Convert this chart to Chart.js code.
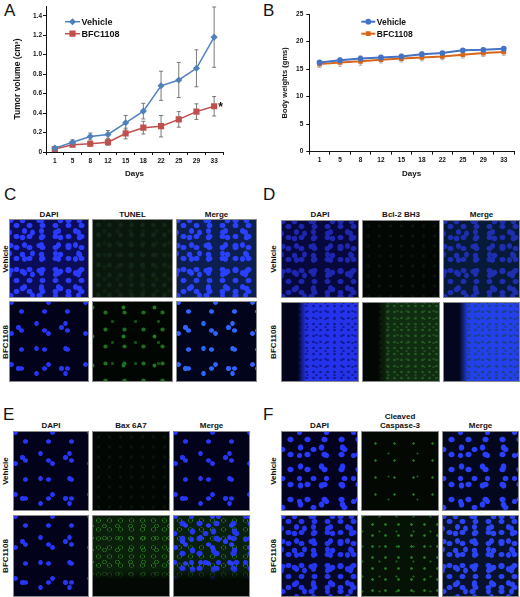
<!DOCTYPE html>
<html>
<head>
<meta charset="utf-8">
<script src="https://cdn.jsdelivr.net/npm/chart.js@4.4.0/dist/chart.umd.min.js"></script>
<style>
  html,body{margin:0;padding:0;background:#fff;}
  body{width:520px;height:597px;position:relative;overflow:hidden;font-family:'Liberation Sans',Arial,sans-serif;}
  .abs{position:absolute;}
  .letter{position:absolute;font-size:17px;color:#111;line-height:1;}
  .hdr{position:absolute;font-size:8px;font-weight:bold;color:#111;text-align:center;line-height:1.15;transform:translateX(-50%);white-space:nowrap;}
  .rowlab{position:absolute;font-size:8px;font-weight:bold;color:#111;white-space:nowrap;transform:translate(-50%,-50%) rotate(-90deg);}
  .img{position:absolute;box-sizing:border-box;border:1px solid #8a8a8a;overflow:hidden;}
</style>
</head>
<body>
<div class="letter" style="left:4px;top:2px;">A</div>
<div class="letter" style="left:263px;top:2px;">B</div>
<div class="abs" style="left:0;top:0;width:232px;height:185px;"><canvas id="chartA"></canvas></div>
<div class="abs" style="left:260px;top:0;width:260px;height:185px;"><canvas id="chartB"></canvas></div>
<div id="figs"></div>
<script>
// ---------------- data ----------------
const days = ['1','5','8','12','15','18','22','25','29','33'];
const vehicleVolume    = [0.04, 0.10, 0.16, 0.18, 0.30, 0.42, 0.68, 0.74, 0.86, 1.18];
const vehicleVolumeErr = [0.01, 0.025,0.035,0.04, 0.075,0.08, 0.15, 0.18, 0.19, 0.31];
const bfcVolume        = [0.03, 0.075,0.085,0.10, 0.19, 0.25, 0.265,0.335,0.415,0.47];
const bfcVolumeErr     = [0.01, 0.02, 0.025,0.03, 0.055,0.065,0.11, 0.08, 0.08, 0.10];
const vehicleWeight    = [16.2, 16.6, 16.9, 17.1, 17.3, 17.7, 17.9, 18.4, 18.5, 18.7];
const vehicleWeightErr = [0.3, 0.4, 0.5, 0.4, 0.4, 0.4, 0.3, 0.3, 0.3, 0.3];
const bfcWeight        = [15.9, 16.2, 16.4, 16.7, 16.9, 17.1, 17.3, 17.6, 17.9, 18.1];
const bfcWeightErr     = [0.6, 0.7, 0.7, 0.6, 0.6, 0.6, 0.6, 0.6, 0.6, 0.6];
const volumeTicks = [0, 0.2, 0.4, 0.6, 0.8, 1, 1.2, 1.4];
const weightTicks = [0, 5, 10, 15, 20, 25];
const seriesNames = ['Vehicle', 'BFC1108'];
const significanceMark = '*';

// ---------------- chart helpers ----------------
Chart.defaults.font.family = "'Liberation Sans', Arial, sans-serif";
Chart.defaults.color = '#111';

const errorBars = {
  id: 'errorBars',
  beforeDatasetsDraw(chart, args, opts) {
    const ctx = chart.ctx, ys = chart.scales.y;
    chart.data.datasets.forEach((ds, i) => {
      if (!ds.errors) return;
      const meta = chart.getDatasetMeta(i);
      ctx.save();
      ctx.strokeStyle = opts.color; ctx.lineWidth = opts.width;
      meta.data.forEach((pt, j) => {
        const v = ds.data[j], e = ds.errors[j];
        const t = ys.getPixelForValue(v + e), b = ys.getPixelForValue(v - e);
        ctx.beginPath();
        ctx.moveTo(pt.x, t); ctx.lineTo(pt.x, b);
        ctx.moveTo(pt.x - opts.cap, t); ctx.lineTo(pt.x + opts.cap, t);
        ctx.moveTo(pt.x - opts.cap, b); ctx.lineTo(pt.x + opts.cap, b);
        ctx.stroke();
      });
      ctx.restore();
    });
  }
};

const innerLegend = {
  id: 'innerLegend',
  afterDraw(chart, args, opts) {
    const ctx = chart.ctx, ca = chart.chartArea;
    chart.data.datasets.forEach((ds, i) => {
      const x = ca.left + opts.dx, y = ca.top + opts.dy + i * opts.gap;
      ctx.save();
      ctx.strokeStyle = ds.borderColor; ctx.lineWidth = ds.borderWidth;
      ctx.beginPath(); ctx.moveTo(x, y); ctx.lineTo(x + opts.len, y); ctx.stroke();
      ctx.fillStyle = ds.pointBackgroundColor; ctx.strokeStyle = ds.pointBorderColor;
      Chart.helpers.drawPoint(ctx, {pointStyle: ds.pointStyle, radius: ds.pointRadius, rotation: 0, borderWidth: 1}, x + opts.len / 2, y);
      ctx.fillStyle = '#111';
      ctx.font = 'bold ' + opts.size + "px 'Liberation Sans', Arial, sans-serif";
      ctx.textBaseline = 'middle';
      ctx.fillText(ds.label, x + opts.len + 1.5, y + 0.5);
      ctx.restore();
    });
  }
};

const asterisk = {
  id: 'asterisk',
  afterDraw(chart, args, opts) {
    if (!opts.text) return;
    const meta = chart.getDatasetMeta(opts.dataset);
    const pt = meta.data[meta.data.length - 1];
    const ctx = chart.ctx;
    ctx.save();
    ctx.fillStyle = '#111';
    ctx.font = "bold 12px 'Liberation Sans', Arial, sans-serif";
    ctx.textBaseline = 'middle';
    ctx.fillText(opts.text, pt.x + 4, pt.y + 1);
    ctx.restore();
  }
};

function makeChart(id, cfg) {
  return new Chart(document.getElementById(id), {
    type: 'line',
    data: {labels: days, datasets: cfg.datasets},
    options: {
      responsive: true, maintainAspectRatio: false, animation: false,
      layout: {padding: cfg.padding},
      plugins: {
        legend: {display: false}, tooltip: {enabled: false},
        errorBars: cfg.err, innerLegend: cfg.legend, asterisk: cfg.asterisk || {}
      },
      scales: {
        x: {
          type: 'category', offset: true,
          grid: {display: true, offset: true, drawOnChartArea: false, drawTicks: true, tickLength: 3, color: '#111', lineWidth: 1},
          border: {display: true, color: '#111', width: 1},
          ticks: {font: {size: 6.5, weight: 'bold'}, color: '#111', padding: 2, maxRotation: 0, autoSkip: false},
          title: {display: true, text: 'Days', font: {size: 8, weight: 'bold'}, color: '#111', padding: {top: 0, bottom: cfg.xTitlePad}},
          afterFit: s => { s.height = cfg.xHeight; }
        },
        y: {
          min: 0, max: cfg.yMax,
          afterBuildTicks: s => { s.ticks = cfg.yTicks.map(v => ({value: v})); },
          grid: {display: true, drawOnChartArea: false, drawTicks: true, tickLength: 3, color: '#111', lineWidth: 1},
          border: {display: true, color: '#111', width: 1},
          ticks: {font: {size: 6.5, weight: 'bold'}, color: '#111', padding: cfg.yTickPad},
          title: {display: true, text: cfg.yTitle, font: {size: cfg.yTitleSize, weight: 'bold'}, color: '#111', padding: {top: cfg.yTitlePad, bottom: 0}},
          afterFit: s => { s.width = cfg.yWidth; }
        }
      }
    },
    plugins: [errorBars, innerLegend, asterisk]
  });
}

makeChart('chartA', {
  datasets: [
    {label: seriesNames[0], data: vehicleVolume, errors: vehicleVolumeErr, borderColor: '#4F81BD', backgroundColor: '#4F81BD',
     pointBackgroundColor: '#4F81BD', pointBorderColor: '#4F81BD', pointStyle: 'rectRot', pointRadius: 2.5, borderWidth: 1.5, tension: 0},
    {label: seriesNames[1], data: bfcVolume, errors: bfcVolumeErr, borderColor: '#C0504D', backgroundColor: '#C0504D',
     pointBackgroundColor: '#C0504D', pointBorderColor: '#C0504D', pointStyle: 'rect', pointRadius: 3.3, borderWidth: 1.5, tension: 0}
  ],
  padding: {top: 6, right: 9, left: 0, bottom: 0},
  yMax: 1.5, yTicks: volumeTicks, yWidth: 46, xHeight: 33, xTitlePad: 6, yTickPad: 1,
  yTitle: 'Tumor volume (cm³)', yTitleSize: 8.5, yTitlePad: 13,
  err: {color: '#6b6b6b', width: 0.9, cap: 2},
  legend: {dx: 19, dy: 15.7, gap: 12, len: 15, size: 9},
  asterisk: {dataset: 1, text: significanceMark}
});

makeChart('chartB', {
  datasets: [
    {label: seriesNames[0], data: vehicleWeight, errors: vehicleWeightErr, borderColor: '#4472C4', backgroundColor: '#4472C4',
     pointBackgroundColor: '#4472C4', pointBorderColor: '#4472C4', pointStyle: 'circle', pointRadius: 1.9, borderWidth: 2, tension: 0},
    {label: seriesNames[1], data: bfcWeight, errors: bfcWeightErr, borderColor: '#D8661A', backgroundColor: '#D8661A',
     pointBackgroundColor: '#D8661A', pointBorderColor: '#D8661A', pointStyle: 'rect', pointRadius: 1.9, borderWidth: 2, tension: 0}
  ],
  padding: {top: 14, right: 3, left: 0, bottom: 0},
  yMax: 25, yTicks: weightTicks, yWidth: 49.3, xHeight: 33.3, xTitlePad: 6.5, yTickPad: 3,
  yTitle: 'Body weights (gms)', yTitleSize: 7.5, yTitlePad: 20,
  err: {color: '#a8a8a8', width: 0.9, cap: 1.8},
  legend: {dx: 52, dy: 7.7, gap: 12, len: 14, size: 8.5}
});

// ---------------- microscopy panels (layout/decoration) ----------------
function dotLayers(layers) {
  return layers.map(l => `radial-gradient(${l[1]}px ${l[2]}px at 50% 50%, ${l[0]} ${l[7] || 70}%, rgba(0,0,0,0) 100%) ${l[5]}px ${l[6]}px/${l[3]}px ${l[4]}px`).join(', ');
}
function dots(layers, bg) { return dotLayers(layers) + ', ' + bg; }
function rings(color, tw, th, ox, oy) {
  return `radial-gradient(3px 2.6px at 50% 50%, rgba(0,0,0,0) 50%, ${color} 68%, rgba(0,0,0,0) 90%) ${ox}px ${oy}px/${tw}px ${th}px`;
}
const denseBlue = c => [[c,3.4,3,13,11,0,0],[c,3,3.4,17,14,6,4],[c,3.2,3.2,19,17,3,9],[c,2.8,3.4,23,21,11,2],[c,3.6,3,29,25,15,13]];
const sparseBlue = c => [[c,3,2.6,23,19,0,0],[c,2.6,3,29,25,12,9],[c,2.8,2.8,37,31,20,16],[c,3,3,43,41,30,5]];
const midBlue = c => [[c,3.6,3.2,17,15,0,0],[c,3.2,3.6,21,19,8,6],[c,3,3,27,23,4,12],[c,3.4,3,31,29,16,3]];
const netBottom = "linear-gradient(180deg, rgba(0,0,0,0) 0, rgba(0,0,0,0) 66%, #040804 80%)";
const tex = {
  dapiDenseNavy: dots(denseBlue('#2a3aff'), '#0b0d58'),
  dapiSparse: dots(sparseBlue('#2636f8'), '#02021a'),
  dapiFaint: dots(denseBlue('#1e26b0'), '#07083e'),
  dapiMid: dots(midBlue('#2838ff'), '#03031f'),
  dapiBfcF: dots(denseBlue('#2536f0'), '#060828'),
  dapiSolid: "linear-gradient(90deg, #03031c 0, #03031c 20%, rgba(0,0,0,0) 32%), " + dots([['#121a90',1.6,1.6,7,6,0,0,60],['#121a90',1.4,1.4,9,8,3,4,60]], '#2433ea'),
  greenDark: dots([['#13281a',3,3,11,10,0,0,50],['#10220f',3,3,13,12,5,5,50]], '#0a170c'),
  greenBlack: dots([['#0a180a',2,2,11,10,0,0,50]], '#030703'),
  greenSpots: dots([['#1d6e20',2.6,2.4,19,17,3,2,60],['#145214',2,2,23,21,8,9,60],['#1f7a22',2.4,2.4,31,29,15,20,60]], '#020602'),
  greenField: "linear-gradient(90deg, #030703 0, #030703 20%, rgba(0,0,0,0) 32%), " + dots([['#245a22',1.6,1.6,7,6,0,0,60],['#1e4e1e',1.4,1.4,9,8,3,4,60]], '#102c11'),
  greenNet: netBottom + ", " + rings('#2f8226', 11, 9, 0, 0) + ', ' + rings('#28721f', 13, 12, 5, 4) + ', #0a200b',
  greenFew: dots([['#237a24',1.5,1.5,19,17,4,3,60],['#1a5a1a',1.3,1.3,29,23,12,10,60]], '#030803'),
  greenFewF: dots([['#237a24',1.6,1.6,13,11,4,3,60],['#1a5a1a',1.4,1.4,17,15,9,8,60]], '#061206'),
  mergeDenseNavy: dots(denseBlue('#2a40ff'), '#0c1f50'),
  mergeSparseCyan: dots(sparseBlue('#2a66ff'), '#02041c'),
  mergeFaint: dots(denseBlue('#1e2eb0'), '#081a3a'),
  mergeSolid: "linear-gradient(90deg, #03061c 0, #03061c 20%, rgba(0,0,0,0) 32%), " + dots([['#1a4280',1.6,1.6,7,6,0,0,60],['#1a4280',1.4,1.4,9,8,3,4,60]], '#2440ea'),
  mergeNet: netBottom + ", " + dotLayers(sparseBlue('#2a3cff')) + ', ' + dotLayers(midBlue('#2436f0')) + ', ' + rings('#2f8226', 11, 9, 0, 0) + ', #0a200f',
  mergeMid: dots(midBlue('#2a40ff'), '#03081f'),
  mergeBfcF: dots(denseBlue('#2a44f5'), '#08122c')
};

const panels = [
  {letter: 'C', lx: 4, ly: 186, hy: 210, heads: ['DAPI', 'TUNEL', 'Merge'], cols: [[9, 89], [92, 173], [176, 257]], rows: [[219, 298], [301, 382]], labX: 5,
   tex: [['dapiDenseNavy', 'greenDark', 'mergeDenseNavy'], ['dapiSparse', 'greenSpots', 'mergeSparseCyan']]},
  {letter: 'D', lx: 263, ly: 186, hy: 210, heads: ['DAPI', 'Bcl-2 BH3', 'Merge'], cols: [[281, 359], [362, 440], [443, 520]], rows: [[220, 298], [302, 382]], labX: 273,
   tex: [['dapiFaint', 'greenBlack', 'mergeFaint'], ['dapiSolid', 'greenField', 'mergeSolid']]},
  {letter: 'E', lx: 3, ly: 406, hy: 421, heads: ['DAPI', 'Bax 6A7', 'Merge'], cols: [[13, 89], [92, 170], [173, 250]], rows: [[431, 511], [515, 597]], labX: 5,
   tex: [['dapiSparse', 'greenBlack', 'dapiSparse'], ['dapiSparse', 'greenNet', 'mergeNet']]},
  {letter: 'F', lx: 263, ly: 406, hy: 421, heads: ['DAPI', 'Cleaved<br>Caspase-3', 'Merge'], cols: [[281, 358], [361, 439], [442, 519]], rows: [[431, 511], [515, 597]], labX: 273,
   tex: [['dapiMid', 'greenFew', 'mergeMid'], ['dapiBfcF', 'greenFewF', 'mergeBfcF']]}
];
const rowNames = ['Vehicle', 'BFC1108'];
const figs = document.getElementById('figs');
panels.forEach(p => {
  const L = document.createElement('div');
  L.className = 'letter'; L.style.left = p.lx + 'px'; L.style.top = p.ly + 'px'; L.textContent = p.letter;
  figs.appendChild(L);
  p.heads.forEach((h, c) => {
    const d = document.createElement('div');
    d.className = 'hdr';
    const multi = h.indexOf('<br>') >= 0;
    d.style.left = ((p.cols[c][0] + p.cols[c][1]) / 2) + 'px';
    d.style.top = (multi ? p.hy - 9.5 : p.hy) + 'px';
    d.innerHTML = h;
    figs.appendChild(d);
  });
  p.rows.forEach((r, ri) => {
    const lab = document.createElement('div');
    lab.className = 'rowlab';
    lab.style.left = p.labX + 'px'; lab.style.top = ((r[0] + r[1]) / 2) + 'px';
    lab.textContent = rowNames[ri];
    figs.appendChild(lab);
    p.cols.forEach((c, ci) => {
      const im = document.createElement('div');
      im.className = 'img';
      im.style.left = c[0] + 'px'; im.style.top = r[0] + 'px';
      im.style.width = (c[1] - c[0]) + 'px'; im.style.height = (r[1] - r[0]) + 'px';
      im.style.background = tex[p.tex[ri][ci]];
      figs.appendChild(im);
    });
  });
});
</script>
</body>
</html>
